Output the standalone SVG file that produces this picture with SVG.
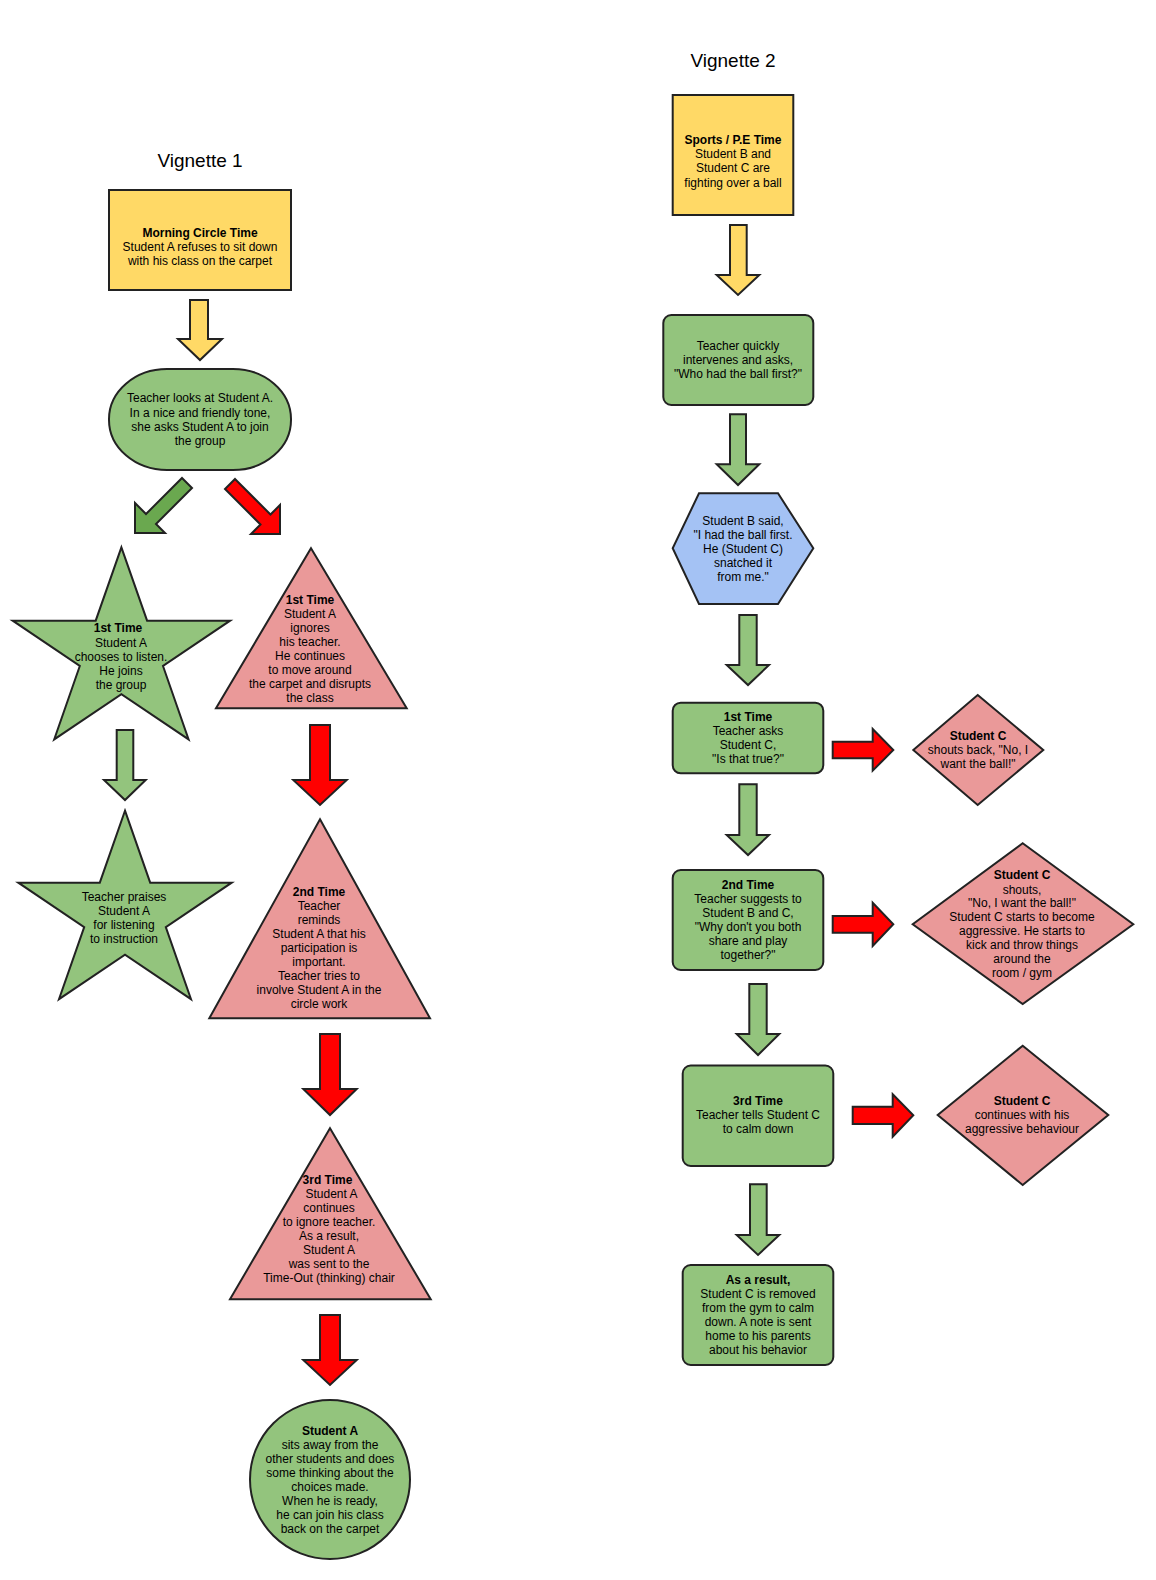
<svg xmlns="http://www.w3.org/2000/svg" width="1156" height="1580" viewBox="0 0 1156 1580">
<style>
text{font-family:"Liberation Sans",Arial,sans-serif;font-size:12px;fill:#000;text-anchor:middle}
.t{font-size:19px}
.bd{font-weight:bold}
.s{stroke:#222;stroke-width:2;stroke-linejoin:miter}
.y{fill:#ffd966}
.g{fill:#93c47d}
.p{fill:#ea9999}
.b{fill:#a4c2f4}
.r{fill:#ff0000}
.dg{fill:#6aa84f}
</style>
<rect width="1156" height="1580" fill="#fff"/>
<g id="titles">
<text class="t" x="200" y="167">Vignette 1</text>
<text class="t" x="733" y="67">Vignette 2</text>
</g>
<g id="connectors">
<polygon class="s y" points="190,300 208,300 208,339 222,339 200,360 178,339 190,339"/>
<polygon class="s dg" points="182,478 192,488 156,524 165,533 135,533 135,503 146,514"/>
<polygon class="s r" points="235,479 270.5,514.5 280,505 280,534 251,534 260.5,524.5 225,489"/>
<polygon class="s g" points="116.7,730 133.3,730 133.3,780 145.7,780 125,800 104,780 116.7,780"/>
<polygon class="s r" points="310,725 330,725 330,780 346.7,780 320,805 293.3,780 310,780"/>
<polygon class="s r" points="320,1034 340,1034 340,1089 356.7,1089 330,1115 303.3,1089 320,1089"/>
<polygon class="s r" points="320,1315 340,1315 340,1360 356.7,1360 330,1385 303.3,1360 320,1360"/>
<polygon class="s y" points="730,225 746.7,225 746.7,275 759.3,275 738,295 716.7,275 730,275"/>
<polygon class="s g" points="730,414.3 746,414.3 746,464.3 759.3,464.3 738,485 716.7,464.3 730,464.3"/>
<polygon class="s g" points="739.3,615 756.7,615 756.7,665 769,665 748,685 726.7,665 739.3,665"/>
<polygon class="s g" points="739.3,784.3 756.7,784.3 756.7,835 769,835 748,855 726.7,835 739.3,835"/>
<polygon class="s g" points="749.3,984 766.7,984 766.7,1034 779.3,1034 758,1055 736.7,1034 749.3,1034"/>
<polygon class="s g" points="750,1184.3 766.7,1184.3 766.7,1235 779.3,1235 758,1255 736.7,1235 750,1235"/>
<polygon class="s r" points="832.7,741.7 872.7,741.7 872.7,729 893.3,750 872.7,770.7 872.7,758.3 832.7,758.3"/>
<polygon class="s r" points="832.7,916 872.7,916 872.7,902.7 893.3,924.3 872.7,946 872.7,932.7 832.7,932.7"/>
<polygon class="s r" points="852.7,1106.7 892.7,1106.7 892.7,1094.3 913.3,1115.3 892.7,1136.7 892.7,1124 852.7,1124"/>
</g>
<g id="v1-start">
<rect class="s y" x="109" y="190" width="182" height="100"/>
<text class="bd" x="200" y="237">Morning Circle Time</text>
<text x="200" y="251">Student A refuses to sit down</text>
<text x="200" y="265">with his class on the carpet</text>
</g>
<g id="v1-ask">
<rect class="s g" x="109" y="369" width="182" height="101" rx="58" ry="50"/>
<text x="200" y="402">Teacher looks at Student A.</text>
<text x="200" y="416.5">In a nice and friendly tone,</text>
<text x="200" y="431">she asks Student A to join</text>
<text x="200" y="445">the group</text>
</g>
<g id="v1-star1">
<polygon class="s g" points="121.4,547.3 147.1,620.7 230.1,620.7 163,666 188.6,739.4 121.4,694.1 54.2,739.4 79.8,666 12.7,620.7 95.7,620.7"/>
<text class="bd" x="118" y="632.3">1st Time</text>
<text x="121" y="646.7">Student A</text>
<text x="121" y="660.7">chooses to listen.</text>
<text x="121" y="674.7">He joins</text>
<text x="121" y="689">the group</text>
</g>
<g id="v1-tri1">
<polygon class="s p" points="311,548.3 406.7,708.3 216,708.3"/>
<text class="bd" x="310" y="604">1st Time</text>
<text x="310" y="618">Student A</text>
<text x="310" y="632">ignores</text>
<text x="310" y="646">his teacher.</text>
<text x="310" y="660">He continues</text>
<text x="310" y="674">to move around</text>
<text x="310" y="688">the carpet and disrupts</text>
<text x="310" y="702">the class</text>
</g>
<g id="v1-star2">
<polygon class="s g" points="125,810.7 150.2,882.7 231.7,882.7 165.8,927.2 191,999.2 125,954.7 59,999.2 84.2,927.2 18.3,882.7 99.8,882.7"/>
<text x="124" y="901">Teacher praises</text>
<text x="124" y="915">Student A</text>
<text x="124" y="929">for listening</text>
<text x="124" y="943">to instruction</text>
</g>
<g id="v1-tri2">
<polygon class="s p" points="320,819.3 430,1018.3 209.3,1018.3"/>
<text class="bd" x="319" y="896">2nd Time</text>
<text x="319" y="910">Teacher</text>
<text x="319" y="924">reminds</text>
<text x="319" y="938">Student A that his</text>
<text x="319" y="952">participation is</text>
<text x="319" y="966">important.</text>
<text x="319" y="980">Teacher tries to</text>
<text x="319" y="994">involve Student A in the</text>
<text x="319" y="1008">circle work</text>
</g>
<g id="v1-tri3">
<polygon class="s p" points="330,1128.3 430.7,1299.3 230,1299.3"/>
<text class="bd" x="327.5" y="1184">3rd Time</text>
<text x="331.5" y="1198">Student A</text>
<text x="329" y="1212">continues</text>
<text x="329" y="1226">to ignore teacher.</text>
<text x="329" y="1240">As a result,</text>
<text x="329" y="1254">Student A</text>
<text x="329" y="1268">was sent to the</text>
<text x="329" y="1282">Time-Out (thinking) chair</text>
</g>
<g id="v1-end">
<ellipse class="s g" cx="330" cy="1479.5" rx="80" ry="79.5"/>
<text class="bd" x="330" y="1435">Student A</text>
<text x="330" y="1449">sits away from the</text>
<text x="330" y="1463">other students and does</text>
<text x="330" y="1477">some thinking about the</text>
<text x="330" y="1491">choices made.</text>
<text x="330" y="1505">When he is ready,</text>
<text x="330" y="1519">he can join his class</text>
<text x="330" y="1533">back on the carpet</text>
</g>
<g id="v2-start">
<rect class="s y" x="672.7" y="95" width="120.6" height="120"/>
<text class="bd" x="733" y="144">Sports / P.E Time</text>
<text x="733" y="158.3">Student B and</text>
<text x="733" y="172.3">Student C are</text>
<text x="733" y="186.7">fighting over a ball</text>
</g>
<g id="v2-intervene">
<rect class="s g" x="663.3" y="315" width="150" height="90" rx="8"/>
<text x="738" y="350">Teacher quickly</text>
<text x="738" y="363.5">intervenes and asks,</text>
<text x="738" y="377.5">"Who had the ball first?"</text>
</g>
<g id="v2-studentB">
<polygon class="s b" points="699,493.3 778,493.3 813.3,548.3 778,604 699,604 672.7,548.3"/>
<text x="743" y="525">Student B said,</text>
<text x="743" y="538.5">"I had the ball first.</text>
<text x="743" y="552.5">He (Student C)</text>
<text x="743" y="566.5">snatched it</text>
<text x="743" y="581">from me."</text>
</g>
<g id="v2-first">
<rect class="s g" x="672.7" y="702.7" width="150.6" height="70.6" rx="8"/>
<text class="bd" x="748" y="721">1st Time</text>
<text x="748" y="735">Teacher asks</text>
<text x="748" y="749">Student C,</text>
<text x="748" y="763">"Is that true?"</text>
</g>
<g id="v2-shout1">
<polygon class="s p" points="977.7,695 1043.3,750 977.7,805 913.3,750"/>
<text class="bd" x="978" y="740">Student C</text>
<text x="978" y="754">shouts back, "No, I</text>
<text x="978" y="768">want the ball!"</text>
</g>
<g id="v2-second">
<rect class="s g" x="672.7" y="870" width="150.6" height="100" rx="8"/>
<text class="bd" x="748" y="889">2nd Time</text>
<text x="748" y="903">Teacher suggests to</text>
<text x="748" y="917">Student B and C,</text>
<text x="748" y="931">"Why don't you both</text>
<text x="748" y="945">share and play</text>
<text x="748" y="959">together?"</text>
</g>
<g id="v2-shout2">
<polygon class="s p" points="1022.7,843.3 1133.3,924.3 1022.7,1004 912.7,924.3"/>
<text class="bd" x="1022" y="878.5">Student C</text>
<text x="1022" y="893.5">shouts,</text>
<text x="1022" y="907">"No, I want the ball!"</text>
<text x="1022" y="921">Student C starts to become</text>
<text x="1022" y="935">aggressive. He starts to</text>
<text x="1022" y="948.5">kick and throw things</text>
<text x="1022" y="962.5">around the</text>
<text x="1022" y="977">room / gym</text>
</g>
<g id="v2-third">
<rect class="s g" x="682.7" y="1065.5" width="150.6" height="100.5" rx="8"/>
<text class="bd" x="758" y="1105">3rd Time</text>
<text x="758" y="1119">Teacher tells Student C</text>
<text x="758" y="1133">to calm down</text>
</g>
<g id="v2-continue">
<polygon class="s p" points="1022.7,1045.7 1108.3,1115 1022.7,1185 937.7,1115"/>
<text class="bd" x="1022" y="1105">Student C</text>
<text x="1022" y="1119">continues with his</text>
<text x="1022" y="1133">aggressive behaviour</text>
</g>
<g id="v2-result">
<rect class="s g" x="682.7" y="1265" width="150.6" height="100" rx="8"/>
<text class="bd" x="758" y="1284">As a result,</text>
<text x="758" y="1298">Student C is removed</text>
<text x="758" y="1312">from the gym to calm</text>
<text x="758" y="1326">down. A note is sent</text>
<text x="758" y="1340">home to his parents</text>
<text x="758" y="1354">about his behavior</text>
</g>
</svg>
